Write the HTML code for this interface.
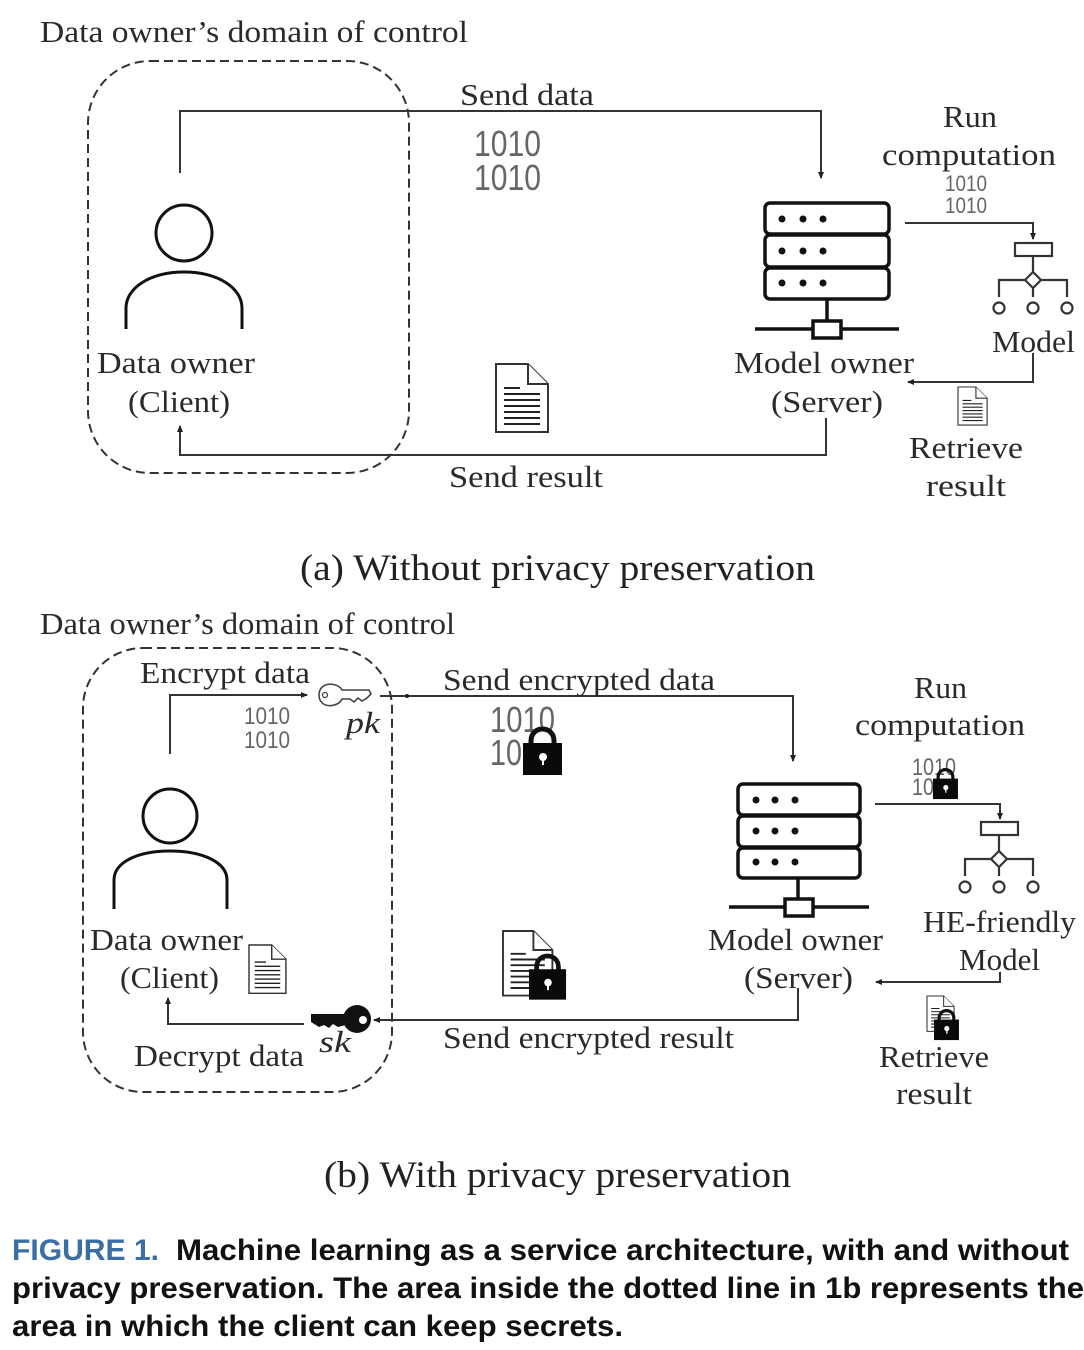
<!DOCTYPE html>
<html><head><meta charset="utf-8"><style>
html,body{margin:0;padding:0;background:#fff}
svg{display:block}
text{font-family:"Liberation Serif",serif;fill:#2a2a2a;font-size:31px}
.s{font-size:31px}
.c{font-size:37px;fill:#222}
.b{font-family:"Liberation Sans",sans-serif;font-weight:bold;font-size:30px;fill:#111}
.n{font-family:"Liberation Sans",sans-serif;fill:#666}
.l{fill:none;stroke:#333;stroke-width:2}
</style></head><body>
<svg width="1084" height="1350" viewBox="0 0 1084 1350" xmlns="http://www.w3.org/2000/svg">
<defs>
<marker id="a" markerWidth="8" markerHeight="8" refX="6" refY="4" orient="auto" markerUnits="userSpaceOnUse"><path d="M0 1L7 4L0 7Z" fill="#222"/></marker>
<g id="doc"><path d="M0 0H32L52 20V68H0Z" fill="#fff" stroke="#333" stroke-width="2"/><path d="M32 0V20H52" fill="#fff" stroke="#333" stroke-width="2"/><path d="M8 24H24M8 30H44M8 36H44M8 42H44M8 48H44M8 54H44M8 60H44" stroke="#222" stroke-width="2"/></g>
<g id="lock"><path d="M8 17V13C8 -3 31 -3 31 13V17" fill="none" stroke="#111" stroke-width="5"/><rect x="0" y="15" width="39" height="32" fill="#0a0a0a"/><circle cx="20" cy="29" r="4" fill="#fff"/><path d="M19 30h2v7h-2z" fill="#fff"/></g>
<g id="tree"><rect x="-18" y="-37" width="37" height="13" fill="#fff" stroke="#333" stroke-width="2.2"/><path d="M0 -24V17M-34 17V0H34V17" fill="none" stroke="#333" stroke-width="2.2"/><path d="M0 -8L8 0L0 8L-8 0Z" fill="#fff" stroke="#333" stroke-width="2.2"/><circle cx="-34" cy="28" r="5.5" fill="#fff" stroke="#333" stroke-width="2.2"/><circle cx="0" cy="28" r="5.5" fill="#fff" stroke="#333" stroke-width="2.2"/><circle cx="34" cy="28" r="5.5" fill="#fff" stroke="#333" stroke-width="2.2"/></g>
</defs>

<!-- Panel a -->
<text x="40" y="42" textLength="428" lengthAdjust="spacingAndGlyphs">Data owner’s domain of control</text>
<rect x="88" y="61" width="321" height="412" rx="62" fill="none" stroke="#333" stroke-width="2" stroke-dasharray="9 5"/>
<path class="l" d="M180 173V111H821V178" marker-end="url(#a)"/>
<text x="460" y="105" textLength="134" lengthAdjust="spacingAndGlyphs">Send data</text>
<text class="n" x="474" y="156" textLength="67" lengthAdjust="spacingAndGlyphs" style="font-size:36px">1010</text>
<text class="n" x="474" y="190" textLength="67" lengthAdjust="spacingAndGlyphs" style="font-size:36px">1010</text>

<circle cx="184" cy="233" r="28" fill="none" stroke="#111" stroke-width="3"/>
<path d="M126 329V308C126 288 150 272 184 272C218 272 242 288 242 308V329" fill="none" stroke="#111" stroke-width="3"/>
<text x="97" y="373" textLength="158" lengthAdjust="spacingAndGlyphs">Data owner</text>
<text x="128" y="412" textLength="102" lengthAdjust="spacingAndGlyphs">(Client)</text>

<g fill="#fff" stroke="#111" stroke-width="3.5"><rect x="765" y="203" width="124" height="31" rx="5"/><rect x="765" y="235" width="124" height="32" rx="5"/><rect x="765" y="268" width="124" height="31" rx="5"/></g>
<g fill="#111"><circle cx="782" cy="219" r="3.5"/><circle cx="803" cy="219" r="3.5"/><circle cx="823" cy="219" r="3.5"/><circle cx="782" cy="251" r="3.5"/><circle cx="803" cy="251" r="3.5"/><circle cx="823" cy="251" r="3.5"/><circle cx="782" cy="283" r="3.5"/><circle cx="803" cy="283" r="3.5"/><circle cx="823" cy="283" r="3.5"/></g>
<path d="M827 299V322M755 329H899" stroke="#111" stroke-width="3.5" fill="none"/>
<rect x="813" y="321" width="28" height="17" fill="#fff" stroke="#111" stroke-width="3.5"/>
<text x="734" y="373" textLength="180" lengthAdjust="spacingAndGlyphs">Model owner</text>
<text x="771" y="412" textLength="112" lengthAdjust="spacingAndGlyphs">(Server)</text>

<text x="943" y="127" textLength="54" lengthAdjust="spacingAndGlyphs">Run</text>
<text x="882" y="165" textLength="174" lengthAdjust="spacingAndGlyphs">computation</text>
<text class="n" x="945" y="191" textLength="42" lengthAdjust="spacingAndGlyphs" style="font-size:22px">1010</text>
<text class="n" x="945" y="213" textLength="42" lengthAdjust="spacingAndGlyphs" style="font-size:22px">1010</text>
<path class="l" d="M905 223H1033V239" marker-end="url(#a)"/>
<use href="#tree" transform="translate(1033 280)"/>
<text x="992" y="352" textLength="83" lengthAdjust="spacingAndGlyphs">Model</text>
<path class="l" d="M1033 353V382H908" marker-end="url(#a)"/>
<use href="#doc" transform="translate(958 387) scale(.56)"/>
<text x="909" y="458" textLength="114" lengthAdjust="spacingAndGlyphs">Retrieve</text>
<text x="926" y="496" textLength="80" lengthAdjust="spacingAndGlyphs">result</text>

<path class="l" d="M826 418V455H180V426" marker-end="url(#a)"/>
<use href="#doc" transform="translate(496 364)"/>
<text x="449" y="487" textLength="154" lengthAdjust="spacingAndGlyphs">Send result</text>

<text class="c" x="300" y="580" textLength="515" lengthAdjust="spacingAndGlyphs">(a) Without privacy preservation</text>

<!-- Panel b -->
<text x="40" y="634" textLength="415" lengthAdjust="spacingAndGlyphs">Data owner’s domain of control</text>
<rect x="83" y="648" width="309" height="444" rx="60" fill="none" stroke="#333" stroke-width="2" stroke-dasharray="9 5"/>
<text x="140" y="683" textLength="170" lengthAdjust="spacingAndGlyphs">Encrypt data</text>
<path class="l" d="M170 754V695H307" marker-end="url(#a)"/>
<path d="M342 690H369L371 694L367 698L362 701L358 698L354 702L350 699H342C338 708 319 709 319 695C319 681 338 682 342 690Z" fill="#fff" stroke="#444" stroke-width="1.6"/>
<circle cx="325" cy="695" r="2.5" fill="none" stroke="#444" stroke-width="1.3"/>
<text x="346" y="733" style="font-style:italic;font-size:31px" textLength="34" lengthAdjust="spacingAndGlyphs">pk</text>
<path class="l" d="M380 696H793V761" marker-end="url(#a)"/>
<circle cx="407" cy="696" r="2" fill="#222"/>
<text class="n" x="244" y="724" textLength="46" lengthAdjust="spacingAndGlyphs" style="font-size:24px">1010</text>
<text class="n" x="244" y="748" textLength="46" lengthAdjust="spacingAndGlyphs" style="font-size:24px">1010</text>
<text x="443" y="690" textLength="272" lengthAdjust="spacingAndGlyphs">Send encrypted data</text>
<text class="n" x="490" y="732" textLength="65" lengthAdjust="spacingAndGlyphs" style="font-size:36px">1010</text>
<text class="n" x="490" y="765" textLength="32" lengthAdjust="spacingAndGlyphs" style="font-size:36px">10</text>
<use href="#lock" transform="translate(523 728)"/>

<circle cx="170" cy="816" r="27" fill="none" stroke="#111" stroke-width="3"/>
<path d="M114 909V880C114 863 136 851 170 851C204 851 227 863 227 880V909" fill="none" stroke="#111" stroke-width="3"/>
<text x="90" y="950" textLength="153" lengthAdjust="spacingAndGlyphs">Data owner</text>
<text x="120" y="988" textLength="99" lengthAdjust="spacingAndGlyphs">(Client)</text>
<use href="#doc" transform="translate(249 945) scale(.71)"/>
<path class="l" d="M304 1024H168V998" marker-end="url(#a)"/>
<path d="M311 1014H345L350 1024L338 1027L333 1024L329 1028L324 1025L319 1027L311 1022Z" fill="#111"/>
<circle cx="357" cy="1019" r="14" fill="#111"/>
<circle cx="363" cy="1020" r="4" fill="#fff"/>
<text x="319" y="1052" style="font-style:italic;font-size:31px" textLength="32" lengthAdjust="spacingAndGlyphs">sk</text>
<text x="134" y="1066" textLength="170" lengthAdjust="spacingAndGlyphs">Decrypt data</text>
<path class="l" d="M798 988V1020H374" marker-end="url(#a)"/>
<text x="443" y="1048" textLength="291" lengthAdjust="spacingAndGlyphs">Send encrypted result</text>
<use href="#doc" transform="translate(503 931) scale(.95)"/>
<use href="#lock" transform="translate(529 955) scale(.95)"/>

<g fill="#fff" stroke="#111" stroke-width="3.5"><rect x="738" y="784" width="122" height="31" rx="5"/><rect x="738" y="816" width="122" height="31" rx="5"/><rect x="738" y="848" width="122" height="30" rx="5"/></g>
<g fill="#111"><circle cx="756" cy="800" r="3.5"/><circle cx="775" cy="800" r="3.5"/><circle cx="795" cy="800" r="3.5"/><circle cx="756" cy="831" r="3.5"/><circle cx="775" cy="831" r="3.5"/><circle cx="795" cy="831" r="3.5"/><circle cx="756" cy="862" r="3.5"/><circle cx="775" cy="862" r="3.5"/><circle cx="795" cy="862" r="3.5"/></g>
<path d="M798 878V900M729 907H869" stroke="#111" stroke-width="3.5" fill="none"/>
<rect x="785" y="899" width="28" height="17" fill="#fff" stroke="#111" stroke-width="3.5"/>
<text x="708" y="950" textLength="175" lengthAdjust="spacingAndGlyphs">Model owner</text>
<text x="744" y="988" textLength="109" lengthAdjust="spacingAndGlyphs">(Server)</text>

<text x="914" y="698" textLength="53" lengthAdjust="spacingAndGlyphs">Run</text>
<text x="855" y="735" textLength="170" lengthAdjust="spacingAndGlyphs">computation</text>
<text class="n" x="912" y="775" textLength="44" lengthAdjust="spacingAndGlyphs" style="font-size:24px">1010</text>
<text class="n" x="912" y="795" textLength="22" lengthAdjust="spacingAndGlyphs" style="font-size:24px">10</text>
<use href="#lock" transform="translate(933 769) scale(.64)"/>
<path class="l" d="M875 804H1000V819" marker-end="url(#a)"/>
<use href="#tree" transform="translate(999 859)"/>
<text x="923" y="932" textLength="153" lengthAdjust="spacingAndGlyphs">HE-friendly</text>
<text x="959" y="970" textLength="81" lengthAdjust="spacingAndGlyphs">Model</text>
<path class="l" d="M1000 972V982H876" marker-end="url(#a)"/>
<use href="#doc" transform="translate(927 996) scale(.52)"/>
<use href="#lock" transform="translate(934 1010) scale(.64)"/>
<text x="879" y="1067" textLength="110" lengthAdjust="spacingAndGlyphs">Retrieve</text>
<text x="896" y="1104" textLength="76" lengthAdjust="spacingAndGlyphs">result</text>

<text class="c" x="324" y="1187" textLength="467" lengthAdjust="spacingAndGlyphs">(b) With privacy preservation</text>

<!-- Caption -->
<text class="b" x="12" y="1260" textLength="147" lengthAdjust="spacingAndGlyphs" style="fill:#3a6ea5">FIGURE 1.</text>
<text class="b" x="176" y="1260" textLength="893" lengthAdjust="spacingAndGlyphs">Machine learning as a service architecture, with and without</text>
<text class="b" x="12" y="1298" textLength="1072" lengthAdjust="spacingAndGlyphs">privacy preservation. The area inside the dotted line in 1b represents the</text>
<text class="b" x="12" y="1336" textLength="611" lengthAdjust="spacingAndGlyphs">area in which the client can keep secrets.</text>
</svg>
</body></html>
